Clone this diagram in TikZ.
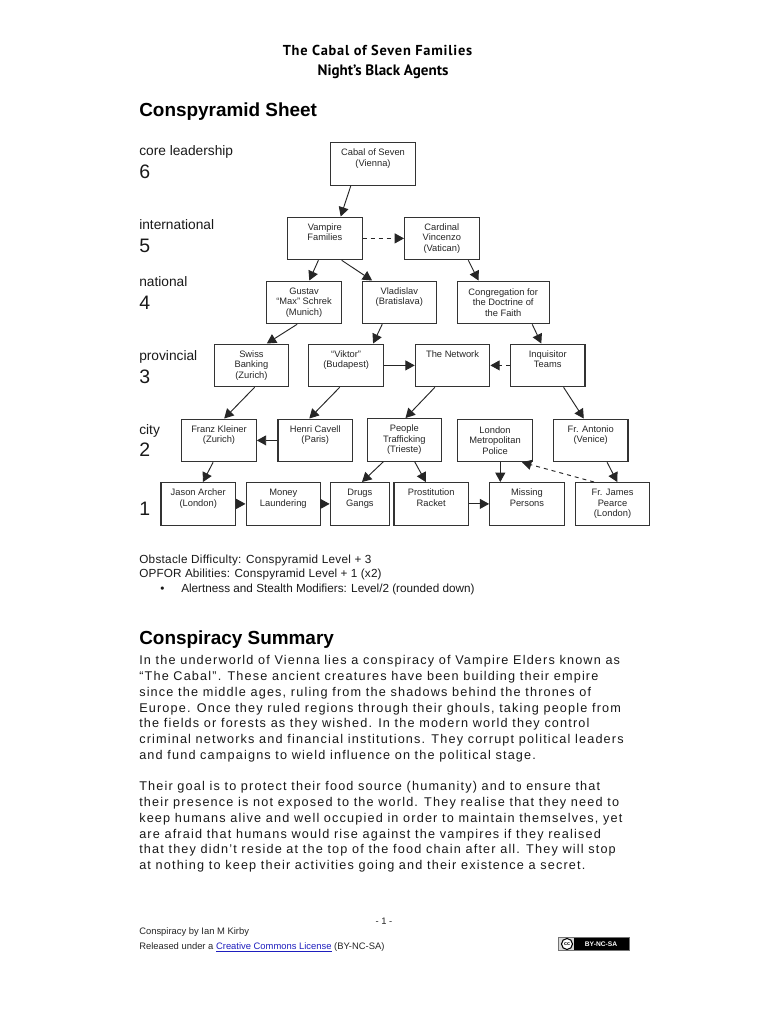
\documentclass[tikz,border=0pt]{standalone}
\usepackage{fontspec}
\usepackage{xcolor}
\usetikzlibrary{arrows.meta}
\setmainfont{Liberation Sans}
\newfontfamily\titlefont[LetterSpace=5.4]{PT Sans}
\newfontfamily\subtitlefont{PT Sans}
\newfontfamily\bodyfont[LetterSpace=9.2]{Liberation Sans}
\newfontfamily\notefont[LetterSpace=2.5]{Liberation Sans}
\newcommand{\pad}{\rule[-1.4pt]{0pt}{1pt}}
\definecolor{linkblue}{RGB}{30,30,190}
\tikzset{
    cell/.style={draw=black!80, line width=0.85pt, anchor=north west, inner sep=0pt, align=center,
        minimum width=55.9pt, minimum height=32pt, font=\fontsize{7}{8}\selectfont, text=black!85},
    conn/.style={draw=black!85, line width=0.7pt, -{Triangle[length=7pt,width=7.5pt]}},
    plain text/.style={anchor=base west, inner sep=0pt, text=black!90},
    head/.style={plain text, font=\fontsize{14.2}{18}\bfseries\selectfont, text=black},
    levelname/.style={plain text, font=\fontsize{10.3}{12}\selectfont},
    levelnum/.style={plain text, font=\fontsize{14.6}{18}\selectfont},
    note/.style={plain text, font=\fontsize{8.8}{11}\notefont},
    para/.style={plain text, anchor=north west, align=left, font=\fontsize{9.5}{11.8}\bodyfont},
    foot/.style={plain text, font=\fontsize{7.05}{8}\selectfont, text=black!85},
}
\begin{document}
\begin{tikzpicture}[x=0.75pt, y=-0.75pt]
        \useasboundingbox[fill=white] (0, 0) rectangle (768, 1024);

        % title
        \node[anchor=base, inner sep=0pt, font=\fontsize{10.8}{14}\bfseries\titlefont] (title) at (377.5, 56) {The Cabal of Seven Families};
        \node[anchor=base, inner sep=0pt, font=\fontsize{11.3}{13}\bfseries\subtitlefont] (subtitle) at (383, 75) {Night’s Black Agents};
        \node[head] (sheet) at (139, 117) {Conspyramid Sheet};

        % levels
        \node[levelname] (l6) at (139, 155) {core leadership};
        \node[levelnum] (n6) at (139, 178) {6};
        \node[levelname] (l5) at (139, 229) {international};
        \node[levelnum] (n5) at (139, 252) {5};
        \node[levelname] (l4) at (139, 286) {national};
        \node[levelnum] (n4) at (139, 309) {4};
        \node[levelname] (l3) at (139, 360) {provincial};
        \node[levelnum] (n3) at (139, 383) {3};
        \node[levelname] (l2) at (139, 434) {city};
        \node[levelnum] (n2) at (139, 456) {2};
        \node[levelnum] (n1) at (139, 515) {1};

        % boxes, one row per level
        \node[cell, minimum width=64.3pt] (cabal) at (329.6, 142) {Cabal of Seven\\(Vienna)\\\pad};

        \node[cell] (vampire) at (287, 216.5) {Vampire\\Families\\\pad};
        \node[cell] (cardinal) at (404, 216.5) {Cardinal\\Vincenzo\\(Vatican)};

        \node[cell] (gustav) at (266.2, 280.5) {Gustav\\“Max” Schrek\\(Munich)};
        \node[cell] (vladislav) at (361.5, 280.5) {Vladislav\\(Bratislava)\\\pad};
        \node[cell, minimum width=68.9pt] (congregation) at (456.7, 280.5) {Congregation for\\the Doctrine of\\the Faith};

        \node[cell] (swiss) at (213.6, 343.5) {Swiss\\Banking\\(Zurich)};
        \node[cell] (viktor) at (308.3, 343.5) {“Viktor”\\(Budapest)\\\pad};
        \node[cell] (network) at (414.7, 343.5) {The Network\\~\\\pad};
        \node[cell] (inquisitor) at (509.9, 343.5) {Inquisitor\\Teams\\\pad};

        \node[cell] (franz) at (181.2, 418.5) {Franz Kleiner\\(Zurich)\\\pad};
        \node[cell] (henri) at (277.4, 418.5) {Henri Cavell\\(Paris)\\\pad};
        \node[cell] (people) at (366.5, 418) {People\\Trafficking\\(Trieste)};
        \node[cell] (london) at (457.2, 418.5) {London\\Metropolitan\\Police};
        \node[cell] (antonio) at (552.9, 418.5) {Fr. Antonio\\(Venice)\\\pad};

        \node[cell] (jason) at (160.4, 482) {Jason Archer\\(London)\\\pad};
        \node[cell] (money) at (245.5, 482) {Money\\Laundering\\\pad};
        \node[cell, minimum width=44.6pt] (drugs) at (329.6, 482) {Drugs\\Gangs\\\pad};
        \node[cell] (prostitution) at (393.4, 482) {Prostitution\\Racket\\\pad};
        \node[cell] (missing) at (489.1, 482) {Missing\\Persons\\\pad};
        \node[cell] (james) at (574.7, 482) {Fr. James\\Pearce\\(London)};

        % connectors
        \draw[conn] (350.8, 0 |- cabal.south) -- (340.7, 0 |- vampire.north);
        \draw[conn] (318.4, 0 |- vampire.south) -- (309.3, 0 |- gustav.north);
        \draw[conn] (341.7, 0 |- vampire.south) -- (372.1, 0 |- vladislav.north);
        \draw[conn, dashed] (vampire.east) -- (cardinal.west);
        \draw[conn] (468.3, 0 |- cardinal.south) -- (478.5, 0 |- congregation.north);

        \draw[conn] (297.1, 0 |- gustav.south) -- (266.8, 0 |- swiss.north);
        \draw[conn] (382.2, 0 |- vladislav.south) -- (373.1, 0 |- viktor.north);
        \draw[conn] (532.2, 0 |- congregation.south) -- (541.3, 0 |- inquisitor.north);
        \draw[conn] (viktor.east) -- (network.west);
        \draw[conn, dashed] (inquisitor.west) -- (network.east);

        \draw[conn] (254.6, 0 |- swiss.south) -- (224.2, 0 |- franz.north);
        \draw[conn] (339.7, 0 |- viktor.south) -- (309.3, 0 |- henri.north);
        \draw[conn] (434.9, 0 |- network.south) -- (405.5, 0 |- people.north);
        \draw[conn] (563.6, 0 |- inquisitor.south) -- (583.8, 0 |- antonio.north);
        \draw[conn] (henri.west) -- (franz.east);

        \draw[conn] (213.1, 0 |- franz.south) -- (202.9, 0 |- jason.north);
        \draw[conn] (383.3, 0 |- people.south) -- (362, 0 |- drugs.north);
        \draw[conn] (414.7, 0 |- people.south) -- (425.8, 0 |- prostitution.north);
        \draw[conn] (500.3, 0 |- london.south) -- (500.3, 0 |- missing.north);
        \draw[conn] (607.1, 0 |- antonio.south) -- (617.3, 0 |- james.north);
        \draw[conn, dashed] (594, 0 |- james.north) -- (522, 0 |- london.south);
        \draw[conn] (jason.east) -- (money.west);
        \draw[conn] (money.east) -- (drugs.west);
        \draw[conn] (prostitution.east) -- (missing.west);

        % notes
        \node[note] (obstacle) at (139, 563) {Obstacle Difficulty: Conspyramid Level + 3};
        \node[note] (opfor) at (139, 577.5) {\addfontfeature{LetterSpace=1.3}OPFOR Abilities: Conspyramid Level + 1 (x2)};
        \node[note] (bullet) at (160, 592) {\textbullet};
        \node[note] (modifiers) at (181, 592) {\addfontfeature{LetterSpace=0}Alertness and Stealth Modifiers: Level/2 (rounded down)};

        \node[head] (summary) at (139, 644) {Conspiracy Summary};

        \node[para] (para1) at (139, 655.5)
            {In the underworld of Vienna lies a conspiracy of Vampire Elders known as\\
            “The Cabal”. These ancient creatures have been building their empire\\
            since the middle ages, ruling from the shadows behind the thrones of\\
            Europe. Once they ruled regions through their ghouls, taking people from\\
            the fields or forests as they wished. In the modern world they control\\
            criminal networks and financial institutions. They corrupt political leaders\\
            and fund campaigns to wield influence on the political stage.};
        \node[para] (para2) at (139, 781.5)
            {Their goal is to protect their food source (humanity) and to ensure that\\
            their presence is not exposed to the world. They realise that they need to\\
            keep humans alive and well occupied in order to maintain themselves, yet\\
            are afraid that humans would rise against the vampires if they realised\\
            that they didn’t reside at the top of the food chain after all. They will stop\\
            at nothing to keep their activities going and their existence a secret.};

        % footer
        \node[foot, anchor=base] (page) at (384, 924) {- 1 -};
        \node[foot] (credit) at (139, 934) {Conspiracy by Ian M Kirby};
        \node[foot] (licence) at (139, 949)
            {Released under a \textcolor{linkblue}{\underline{Creative Commons License}} (BY-NC-SA)};

        % badge
        \fill[black!55] (558, 937) rectangle (630, 951);
        \fill[black] (574, 938) rectangle (629, 950);
        \fill[black!15] (559, 938) rectangle (574, 950);
        \draw[fill=white, line width=0.8pt] (567, 944) circle (5.5);
        \node[inner sep=0pt, font=\fontsize{4}{5}\bfseries\selectfont] (cc) at (567, 944) {cc};
        \node[inner sep=0pt, text=white, font=\fontsize{5}{6}\bfseries\selectfont] (bync) at (601, 944) {BY-NC-SA};
\end{tikzpicture}
\end{document}
